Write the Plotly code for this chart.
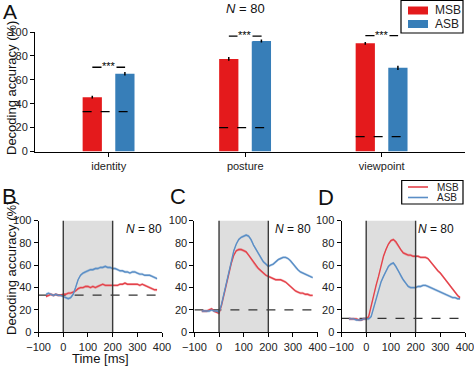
import plotly.graph_objects as go

# ---------------- data ----------------
categories = ["identity", "posture", "viewpoint"]
series_names = ["MSB", "ASB"]
msb_acc = [45.5, 77.5, 90.5]
asb_acc = [65.0, 92.5, 70.0]
msb_err = [1.2, 1.6, 1.2]
asb_err = [1.5, 1.2, 1.8]
chance = [33.3, 20.0, 12.5]
sig_level = [70.5, 96.5, 97.0]
sig_label = ["***", "***", "***"]

stim_window = [0, 200]
time_ms = list(range(-70, 390, 10))

msb_B = [32, 33, 34, 33, 34, 33, 33, 34, 34, 35, 35, 36, 37, 39, 40, 40, 41, 41, 40, 41, 40, 41, 42,
         43, 42, 42, 42, 42, 42, 42, 43, 43, 44, 43, 43, 43, 43, 43, 42, 43, 42, 41, 40, 39, 38, 38]
asb_B = [34, 35, 34, 33, 34, 33, 33, 32, 31, 30, 31, 34, 40, 47, 51, 53, 54, 55, 56, 56, 57, 57, 58,
         58, 59, 58, 58, 57, 57, 56, 55, 55, 54, 54, 53, 54, 54, 53, 52, 52, 51, 51, 51, 50, 49, 48]
msb_C = [19, 19, 19, 20, 21, 19, 18, 17, 24, 34, 44, 54, 62, 69, 73, 74, 74, 73, 72, 69, 66, 62, 59,
         57, 55, 53, 51, 50, 49, 48, 47, 47, 47, 46, 45, 43, 41, 39, 37, 36, 35, 35, 34, 34, 33, 33]
asb_C = [19, 19, 19, 19, 20, 19, 19, 18, 25, 35, 45, 56, 65, 73, 79, 83, 85, 86, 87, 86, 83, 78, 74,
         70, 66, 63, 61, 59, 60, 61, 63, 65, 66, 67, 67, 66, 64, 61, 58, 56, 54, 53, 52, 51, 50, 49]
msb_D = [12, 12, 12, 12, 11, 11, 12, 12, 14, 24, 34, 42, 50, 60, 68, 74, 79, 82, 83, 81, 77, 74, 71,
         70, 69, 69, 68, 68, 68, 67, 67, 67, 66, 63, 60, 58, 55, 53, 50, 47, 44, 41, 38, 36, 33, 31]
asb_D = [12, 12, 12, 11, 11, 11, 12, 12, 12, 14, 22, 30, 38, 45, 50, 55, 59, 61, 62, 59, 55, 50, 47,
         44, 41, 40, 40, 40, 41, 41, 42, 42, 41, 40, 39, 38, 37, 36, 35, 34, 33, 32, 31, 31, 30, 30]
sem_band = 1.2

# ---------------- styles ----------------
RED_BAR, BLUE_BAR = "#e41a1c", "#377eb8"
RED_LN, BLUE_LN = "#e4434b", "#5a8ec6"
RED_BAND, BLUE_BAND = "rgba(228,67,75,0.35)", "rgba(90,142,198,0.35)"
FONT = "Liberation Sans, Arial, sans-serif"
W, H = 474, 366


def px_x(p):
    return p / W


def px_y(p):
    return 1 - p / H


fig = go.Figure()

# ---------- panel A ----------
idx = list(range(len(categories)))
bar_w = 0.141
msb_off = -0.191
asb_off = 0.048
fig.add_trace(go.Bar(x=idx, y=msb_acc, width=bar_w, offset=msb_off, name=series_names[0],
                     marker=dict(color=RED_BAR, line=dict(width=0)),
                     error_y=dict(type="data", array=msb_err, color="black", thickness=1.5, width=0),
                     showlegend=False, xaxis="x", yaxis="y"))
fig.add_trace(go.Bar(x=idx, y=asb_acc, width=bar_w, offset=asb_off, name=series_names[1],
                     marker=dict(color=BLUE_BAR, line=dict(width=0)),
                     error_y=dict(type="data", array=asb_err, color="black", thickness=1.5, width=0),
                     showlegend=False, xaxis="x", yaxis="y"))
for i in idx:
    fig.add_trace(go.Scatter(x=[i + msb_off, i + asb_off + bar_w], y=[chance[i], chance[i]],
                             mode="lines", line=dict(color="black", width=1.2, dash="dash"),
                             showlegend=False, hoverinfo="skip", xaxis="x", yaxis="y"))
    fig.add_trace(go.Scatter(x=[i - 0.12, i + 0.12], y=[sig_level[i], sig_level[i]],
                             mode="lines", line=dict(color="black", width=1.3),
                             showlegend=False, hoverinfo="skip", xaxis="x", yaxis="y"))
    fig.add_annotation(x=i, y=sig_level[i], xref="x", yref="y", text=sig_label[i],
                       showarrow=False, bgcolor="white", font=dict(size=11, color="black"),
                       borderpad=0, yshift=1)

# ---------- panels B, C, D ----------
panels = [
    ("x2", "y2", msb_B, asb_B, chance[0]),
    ("x3", "y3", msb_C, asb_C, chance[1]),
    ("x4", "y4", msb_D, asb_D, chance[2]),
]
for k, (xa, ya, msb, asb, ch) in enumerate(panels):
    fig.add_shape(type="rect", xref=xa, yref=ya, x0=stim_window[0], x1=stim_window[1], y0=0, y1=100,
                  fillcolor="#dedede", line=dict(width=0), layer="below")
    for xv in stim_window:
        fig.add_shape(type="line", xref=xa, yref=ya, x0=xv, x1=xv, y0=0, y1=100,
                      line=dict(color="#3a3a3a", width=1.4), layer="above")
    fig.add_trace(go.Scatter(x=[-100, 400], y=[ch, ch], mode="lines",
                             line=dict(color="#333", width=1.2, dash="dash"),
                             showlegend=False, hoverinfo="skip", xaxis=xa, yaxis=ya))
    for vals, bc in [(asb, BLUE_BAND), (msb, RED_BAND)]:
        upper = [v + sem_band for v in vals]
        lower = [v - sem_band for v in vals]
        fig.add_trace(go.Scatter(x=time_ms + time_ms[::-1], y=upper + lower[::-1], fill="toself",
                                 fillcolor=bc, line=dict(width=0), mode="lines",
                                 showlegend=False, hoverinfo="skip", xaxis=xa, yaxis=ya))
    for vals, lc, nm in [(msb, RED_LN, series_names[0]), (asb, BLUE_LN, series_names[1])]:
        fig.add_trace(go.Scatter(x=time_ms, y=vals, mode="lines", name=nm,
                                 line=dict(color=lc, width=1.4),
                                 showlegend=False, xaxis=xa, yaxis=ya))

# ---------- axes ----------
axis_common = dict(showline=True, linecolor="black", linewidth=1, ticks="outside", ticklen=4,
                   tickcolor="black", showgrid=False, zeroline=False, automargin=False,
                   ticklabeloverflow="allow",
                   tickfont=dict(size=11, color="#222", family=FONT))
top_bottom, top_top = 151.5, 32
bot_bottom, bot_top = 332.3, 220.5
yt = [0, 20, 40, 60, 80, 100]
xt = [-100, 0, 100, 200, 300, 400]

fig.update_layout(
    xaxis=dict(domain=[px_x(35), px_x(465)], range=[-0.54, 2.61], tickvals=idx, ticktext=categories,
               anchor="y", **axis_common),
    yaxis=dict(domain=[px_y(top_bottom), px_y(top_top)], range=[0, 100], tickvals=yt,
               anchor="x", **axis_common),
    xaxis2=dict(domain=[px_x(38.6), px_x(162)], range=[-100, 400], tickvals=xt,
                anchor="y2", **axis_common),
    yaxis2=dict(domain=[px_y(bot_bottom), px_y(bot_top)], range=[0, 100], tickvals=yt,
                anchor="x2", **axis_common),
    xaxis3=dict(domain=[px_x(194.4), px_x(317.6)], range=[-100, 400], tickvals=xt,
                anchor="y3", **axis_common),
    yaxis3=dict(domain=[px_y(bot_bottom), px_y(bot_top)], range=[0, 100], tickvals=yt,
                anchor="x3", **axis_common),
    xaxis4=dict(domain=[px_x(341.5), px_x(465)], range=[-100, 400], tickvals=xt,
                anchor="y4", **axis_common),
    yaxis4=dict(domain=[px_y(bot_bottom), px_y(bot_top)], range=[0, 100], tickvals=yt,
                anchor="x4", **axis_common),
)

fig.update_layout(
    width=W, height=H, margin=dict(l=0, r=0, t=0, b=0, pad=0, autoexpand=False),
    paper_bgcolor="white", plot_bgcolor="rgba(0,0,0,0)",
    font=dict(family=FONT, color="#222"),
    barmode="overlay", showlegend=False,
)


# ---------- text ----------
def ann(x, y, text, size, angle=0, xanchor="center", yanchor="middle", color="#111"):
    fig.add_annotation(x=px_x(x), y=px_y(y), xref="paper", yref="paper", text=text, showarrow=False,
                       textangle=angle, xanchor=xanchor, yanchor=yanchor,
                       font=dict(size=size, color=color, family=FONT))


ann(1, 11, "A", 21, xanchor="left")
ann(0, 196, "B", 22, xanchor="left")
ann(168, 196, "C", 22, xanchor="left")
ann(316, 197, "D", 22, xanchor="left")
ann(245, 8, "<i>N</i> = 80", 13)
ann(144, 229, "<i>N</i> = 80", 12)
ann(293, 229, "<i>N</i> = 80", 12)
ann(436, 229, "<i>N</i> = 80", 12)
ann(11, 88, "Decoding accuracy (%)", 13, angle=-90)
ann(11, 268, "Decoding accuracy (%)", 13, angle=-90)
ann(100, 358.5, "Time [ms]", 13)


# ---------- legends (drawn in paper pixels) ----------
def legend_box(x0, y0, x1, y1):
    fig.add_shape(type="rect", xref="paper", yref="paper", x0=px_x(x0), x1=px_x(x1),
                  y0=px_y(y1), y1=px_y(y0), fillcolor="white", line=dict(color="black", width=1.2))


legend_box(401, 0.5, 463, 33)
for j, (nm, col) in enumerate(zip(series_names, [RED_BAR, BLUE_BAR])):
    yc = 10.5 + j * 13.5
    fig.add_shape(type="rect", xref="paper", yref="paper", x0=px_x(408), x1=px_x(428),
                  y0=px_y(yc + 4), y1=px_y(yc - 4), fillcolor=col, line=dict(width=0))
    ann(433, yc, nm, 12, xanchor="left", color="#222")

legend_box(401.7, 180.5, 463, 204)
for j, (nm, col) in enumerate(zip(series_names, [RED_LN, BLUE_LN])):
    yc = 187 + j * 10.5
    fig.add_shape(type="line", xref="paper", yref="paper", x0=px_x(408), x1=px_x(428),
                  y0=px_y(yc), y1=px_y(yc), line=dict(color=col, width=1.6))
    ann(435, yc, nm, 10, xanchor="left", color="#222")

fig.write_html("out.html", config={"displayModeBar": False},
               post_script="document.body.style.margin='0px';document.body.style.padding='0px';")
